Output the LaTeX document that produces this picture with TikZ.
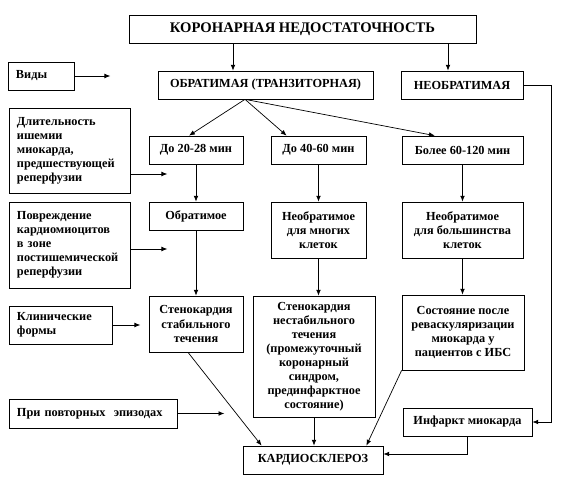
\documentclass[tikz,border=0pt]{standalone}
\usepackage{fontspec}
\setmainfont{Liberation Serif}
\usepackage{tikz}
\usetikzlibrary{arrows.meta}
\usetikzlibrary{calc}

\begin{document}
\begin{tikzpicture}[x=0.03cm, y=-0.03cm, line width=0.6pt,
        box_style/.style 2 args={draw=black, rectangle, inner sep=0pt, minimum width=#1*0.03cm, minimum height=#2*0.03cm, align=center, font=\fontsize{10.5}{12}\selectfont\bfseries},
        left_style/.style 2 args={box_style={#1}{#2}, align=left, inner xsep=0.24cm},
        edge_style/.style={draw=black, line width=0.6pt, -{Latex[length=5pt,width=4pt]}}]

        \useasboundingbox (0,0) rectangle (566,483);

        \node [box_style={347}{28}, font=\fontsize{12.5}{14}\selectfont\bfseries] (kn) at (302.5,29) {КОРОНАРНАЯ НЕДОСТАТОЧНОСТЬ};

        \node [left_style={66}{28}, text width=1.5cm] (vidy) at (41,76) {Виды};

        \node [box_style={215}{28}] (obr) at (265.5,85) {ОБРАТИМАЯ (ТРАНЗИТОРНАЯ)};

        \node [box_style={122}{28}] (neobr) at (462,85) {НЕОБРАТИМАЯ};

        \node [left_style={121}{85}, text width=3.15cm] (dlit) at (69.5,150.5) {Длительность\\ ишемии\\ миокарда,\\ предшествующей\\ реперфузии};

        \node [box_style={94}{28}] (d20) at (196,150) {До 20-28 мин};

        \node [box_style={95}{28}] (d40) at (318.5,150) {До 40-60 мин};

        \node [box_style={121}{28}] (bol) at (462.5,150) {Более 60-120 мин};

        \node [left_style={121}{86}, text width=3.15cm] (povr) at (69.5,245) {Повреждение\\ кардиомиоцитов\\ в зоне\\ постишемической\\ реперфузии};

        \node [box_style={94}{28}] (obrm) at (196,216) {Обратимое};

        \node [box_style={95}{56}] (nmn) at (318.5,230) {Необратимое\\ для многих\\ клеток};

        \node [box_style={121}{56}] (nbol) at (462.5,230) {Необратимое\\ для большинства\\ клеток};

        \node [left_style={103}{38}, text width=2.61cm] (klin) at (60.5,325) {Клинические\\ формы};

        \node [box_style={94}{56}] (stab) at (196,324) {Стенокардия\\ стабильного\\ течения};

        \node [box_style={122}{121}] (nestab) at (314,356.5) {Стенокардия\\ нестабильного\\ течения\\ (промежуточный\\ коронарный\\ синдром,\\ прединфарктное\\ состояние)};

        \node [box_style={122}{75}] (sost) at (463,332.5) {Состояние после\\ реваскуляризации\\ миокарда у\\ пациентов с ИБС};

        \node [left_style={168}{29}, text width=4.56cm] (povt) at (93,413.5) {При повторных\ \ эпизодах};

        \node [box_style={129}{28}] (infarkt) at (467.5,422) {Инфаркт миокарда};

        \node [box_style={140}{28}] (ks) at (313,460) {КАРДИОСКЛЕРОЗ};

        % top level
        \draw [edge_style] ([xshift=-0.975cm]kn.south -| obr.north) -- ([xshift=-0.975cm]obr.north);

        \draw [edge_style] ([xshift=-0.42cm]kn.south -| neobr.north) -- ([xshift=-0.42cm]neobr.north);

        % branches of the reversible form
        \coordinate (br) at ([xshift=-0.615cm]obr.south);

        \draw [edge_style] (br) -- ([xshift=-0.21cm]d20.north);

        \draw [edge_style] (br) -- ([xshift=0.48cm]d40.north west);

        \draw [edge_style] (br) -- ([xshift=-0.83cm]bol.north);

        \draw [edge_style] (d20) -- (obrm);

        \draw [edge_style] (d40) -- (nmn);

        \draw [edge_style] (bol) -- (nbol);

        \draw [edge_style] (obrm) -- (stab);

        \draw [edge_style] (nmn.south) -- (nmn.south |- nestab.north);

        \draw [edge_style] (nbol.south) -- (nbol.south |- sost.north);

        % into cardiosclerosis
        \draw [edge_style] ([xshift=-0.24cm]stab.south) -- ([xshift=0.57cm]ks.north west);

        \draw [edge_style] (nestab.south) -- (nestab.south |- ks.north);

        \draw [edge_style] (sost.south west) -- ([xshift=-0.51cm]ks.north east);

        \draw [edge_style] (neobr.east) -- ++(28,0) |- (infarkt.east);

        \draw [edge_style] (infarkt.south) |- ([yshift=0.18cm]ks.east);

        % left-hand legend arrows
        \draw [edge_style] (vidy.east) -- ++(36,0);

        \draw [edge_style] ([yshift=-0.705cm]dlit.east) -- ++(37,0);

        \draw [edge_style] ([yshift=-0.12cm]povr.east) -- ++(37,0);

        \draw [edge_style] (klin.east) -- ++(28,0);

        \draw [edge_style] (povt.east) -- ++(47,0);

\end{tikzpicture}
\end{document}
